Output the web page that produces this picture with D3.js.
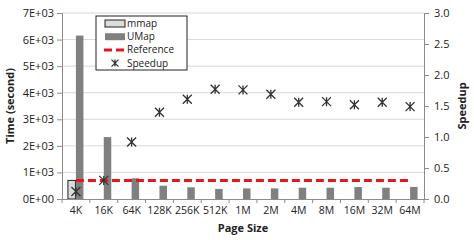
<!DOCTYPE html>
<html>
<head>
<meta charset="utf-8">
<script src="https://cdn.jsdelivr.net/npm/d3@7"></script>
<style>
  body { margin: 0; background: #fff; }
  svg text { font-family: "Open Sans", "Noto Sans", sans-serif; fill: #222; }
</style>
</head>
<body>
<svg id="chart"></svg>
<script>
const pageSizes = ['4K', '16K', '64K', '128K', '256K', '512K', '1M', '2M', '4M', '8M', '16M', '32M', '64M'];
const mmapTime = [700, null, null, null, null, null, null, null, null, null, null, null, null];
const umapTime = [6150, 2330, 780, 500, 440, 380, 400, 400, 425, 425, 450, 425, 455];
const referenceTime = 700;
const speedup = [0.12, 0.30, 0.92, 1.40, 1.61, 1.77, 1.76, 1.69, 1.56, 1.57, 1.52, 1.56, 1.49];
const timeTicks = [0, 1000, 2000, 3000, 4000, 5000, 6000, 7000];
const speedTicks = [0, 0.5, 1, 1.5, 2, 2.5, 3];

const width = 474, height = 240;
const margin = { top: 13, right: 50, bottom: 41, left: 62 };

const svg = d3.select('#chart')
    .attr('width', width)
    .attr('height', height);

const x = d3.scaleBand()
    .domain(pageSizes)
    .range([margin.left, width - margin.right]);

const yLeft = d3.scaleLinear()
    .domain([0, 7000])
    .range([height - margin.bottom, margin.top]);

const yRight = d3.scaleLinear()
    .domain([0, 3])
    .range([height - margin.bottom, margin.top]);

const barW = 7.5;

// gridlines
svg.append('g')
    .selectAll('line')
    .data(timeTicks.slice(1))
    .join('line')
    .attr('x1', margin.left)
    .attr('x2', width - margin.right)
    .attr('y1', d => yLeft(d))
    .attr('y2', d => yLeft(d))
    .attr('stroke', '#d9d9d9')
    .attr('stroke-width', 1);

// mmap bars
svg.append('g')
    .selectAll('rect')
    .data(pageSizes.map((p, i) => ({ p, v: mmapTime[i] })).filter(d => d.v != null))
    .join('rect')
    .attr('x', d => x(d.p) + x.bandwidth() / 2 - barW - 0.5)
    .attr('y', d => yLeft(d.v))
    .attr('width', barW)
    .attr('height', d => yLeft(0) - yLeft(d.v))
    .attr('fill', '#dcdcdc')
    .attr('stroke', '#222')
    .attr('stroke-width', 1);

// UMap bars
svg.append('g')
    .selectAll('rect')
    .data(pageSizes.map((p, i) => ({ p, v: umapTime[i] })))
    .join('rect')
    .attr('x', d => x(d.p) + x.bandwidth() / 2)
    .attr('y', d => yLeft(d.v))
    .attr('width', barW)
    .attr('height', d => yLeft(0) - yLeft(d.v))
    .attr('fill', '#808080');

// axes
const xAxis = svg.append('g')
    .attr('transform', `translate(0,${height - margin.bottom})`)
    .call(d3.axisBottom(x).tickSize(0).tickPadding(8));
xAxis.select('.domain').attr('stroke', '#8c8c8c');
xAxis.selectAll('text').attr('font-size', 10.5).attr('fill', '#222');
svg.append('g')
    .selectAll('line')
    .data(d3.range(pageSizes.length + 1))
    .join('line')
    .attr('x1', i => margin.left + i * x.step())
    .attr('x2', i => margin.left + i * x.step())
    .attr('y1', height - margin.bottom)
    .attr('y2', height - margin.bottom + 4)
    .attr('stroke', '#8c8c8c');

const leftAxis = svg.append('g')
    .attr('transform', `translate(${margin.left},0)`)
    .call(d3.axisLeft(yLeft).tickValues(timeTicks).tickSize(5).tickPadding(3)
        .tickFormat(d => (d / 1000) + 'E+' + (d === 0 ? '00' : '03')));
leftAxis.select('.domain').attr('stroke', '#8c8c8c');
leftAxis.selectAll('.tick line').attr('stroke', '#8c8c8c');
leftAxis.selectAll('text').attr('font-size', 11).attr('fill', '#222');

const rightAxis = svg.append('g')
    .attr('transform', `translate(${width - margin.right},0)`)
    .call(d3.axisRight(yRight).tickValues(speedTicks).tickSize(5).tickPadding(5)
        .tickFormat(d3.format('.1f')));
rightAxis.select('.domain').attr('stroke', '#8c8c8c');
rightAxis.selectAll('.tick line').attr('stroke', '#8c8c8c');
rightAxis.selectAll('text').attr('font-size', 11).attr('fill', '#222');

// reference line
svg.append('line')
    .attr('x1', x(pageSizes[0]) + x.bandwidth() / 2)
    .attr('x2', x(pageSizes[pageSizes.length - 1]) + x.bandwidth() / 2)
    .attr('y1', yLeft(referenceTime))
    .attr('y2', yLeft(referenceTime))
    .attr('stroke', '#e8141e')
    .attr('stroke-width', 3)
    .attr('stroke-dasharray', '8,4');

// speedup star markers
const star = (g, s) => {
    g.append('path')
        .attr('d', `M${-s},${-s}L${s},${s}M${-s},${s}L${s},${-s}M0,${-s}L0,${s}`)
        .attr('stroke', '#333')
        .attr('stroke-width', 1.3)
        .attr('fill', 'none');
};
svg.append('g')
    .selectAll('g')
    .data(pageSizes.map((p, i) => ({ p, v: speedup[i] })))
    .join('g')
    .attr('transform', d => `translate(${x(d.p) + x.bandwidth() / 2},${yRight(d.v)})`)
    .each(function () { star(d3.select(this), 4.5); });

// axis titles
svg.append('text')
    .attr('transform', `translate(14,${(margin.top + height - margin.bottom) / 2}) rotate(-90)`)
    .attr('text-anchor', 'middle')
    .attr('font-size', 11)
    .attr('font-weight', 'bold')
    .text('Time (second)');
svg.append('text')
    .attr('transform', `translate(466,${(margin.top + height - margin.bottom) / 2}) rotate(-90)`)
    .attr('text-anchor', 'middle')
    .attr('font-size', 11)
    .attr('font-weight', 'bold')
    .text('Speedup');
svg.append('text')
    .attr('x', 243)
    .attr('y', 232)
    .attr('text-anchor', 'middle')
    .attr('font-size', 11)
    .attr('font-weight', 'bold')
    .text('Page Size');

// legend
const legend = svg.append('g').attr('transform', 'translate(96,16)');
legend.append('rect')
    .attr('width', 91).attr('height', 54)
    .attr('fill', '#fff').attr('stroke', '#222');
const items = ['mmap', 'UMap', 'Reference', 'Speedup'];
items.forEach((name, i) => {
    const cy = 7.5 + i * 13.2;
    const row = legend.append('g').attr('transform', `translate(0,${cy})`);
    if (name === 'mmap') {
        row.append('rect').attr('x', 9).attr('y', -3.5).attr('width', 20).attr('height', 7)
            .attr('fill', '#dcdcdc').attr('stroke', '#222');
    } else if (name === 'UMap') {
        row.append('rect').attr('x', 9).attr('y', -3.5).attr('width', 20).attr('height', 7)
            .attr('fill', '#808080');
    } else if (name === 'Reference') {
        row.append('line').attr('x1', 8).attr('x2', 30).attr('y1', 0).attr('y2', 0)
            .attr('stroke', '#e8141e').attr('stroke-width', 3).attr('stroke-dasharray', '8,4');
    } else {
        row.append('g').attr('transform', 'translate(19,0)').call(g => star(g, 3.5));
    }
    row.append('text')
        .attr('x', 31)
        .attr('dy', '0.35em')
        .attr('font-size', 10)
        .text(name);
});
</script>
</body>
</html>
